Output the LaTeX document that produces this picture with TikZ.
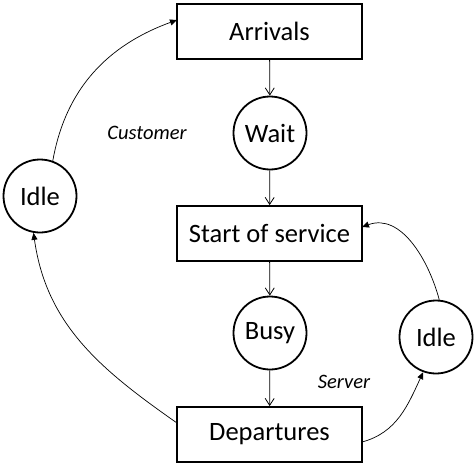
\documentclass[tikz,border=0pt]{standalone}
\usepackage{fontspec}
\setmainfont{Carlito}
\usetikzlibrary{arrows.meta}
\begin{document}
\begin{tikzpicture}[x=1pt,y=-1pt,
  box/.style={draw,line width=1.8pt,minimum width=185pt,minimum height=55pt,inner sep=0pt,font=\fontsize{26.5}{30}\selectfont},
  state/.style={draw,circle,line width=1.8pt,minimum size=73pt,inner sep=0pt,font=\fontsize{26.5}{30}\selectfont},
  flow/.style={line width=0.8pt,-{Straight Barb[length=7pt,width=9pt,line width=0.8pt]}},
  loop/.style={line width=0.7pt,-{Triangle[length=7pt,width=6pt]}},
  lbl/.style={font=\fontsize{20.5}{24}\selectfont\itshape}]
\useasboundingbox (0,0) rectangle (474,463);
\node[box] (arr) at (269.5,31.5) {Arrivals};
\node[state] (wait) at (270,133) {Wait};
\node[box] (sos) at (269.5,233.5) {Start of service};
\node[state] (busy) at (270,333) {Busy};
\node[box] (dep) at (269.5,434.5) {Departures};
\node[state] (cidle) at (40,196) {Idle};
\node[state] (sidle) at (436,337) {Idle};
\node[lbl] (cust) at (147,133) {Customer};
\node[lbl] (serv) at (344,382) {Server};
\coordinate (arrin) at (177,20);
\coordinate (sosin) at (362,227);
\coordinate (depl) at (177,423);
\coordinate (depr) at (362,442);
\draw[flow] (arr) -- (wait);
\draw[flow] (wait) -- (sos);
\draw[flow] (sos) -- (busy);
\draw[flow] (busy) -- (dep);
\draw[loop] (cidle.70) to[out=80,in=200] (arrin);
\draw[loop] (depl) to[out=145,in=-82] (cidle.-100);
\draw[loop] (depr) to[out=15,in=-115] (sidle.-110);
\draw[loop] (sidle.85) to[out=105,in=20] (sosin);
\end{tikzpicture}
\end{document}
